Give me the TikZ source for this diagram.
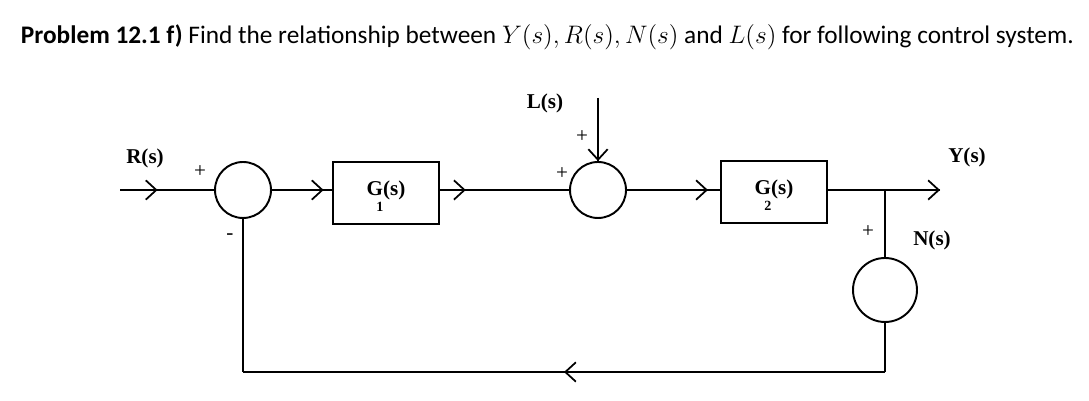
\documentclass[tikz,border=0pt]{standalone}
\usepackage{fontspec}
\setmainfont{Liberation Serif}
\newfontfamily\carlitofont{Carlito}
\usetikzlibrary{arrows.meta,decorations.markings}
\begin{document}
\begin{tikzpicture}[x=0.02cm,y=-0.02cm,line width=1.1pt,
  chev/.style={postaction={decorate,decoration={markings,mark=at position #1 with {\arrow{Straight Barb[length=6pt,width=11pt,line width=1pt]}}}}},
  sum/.style={draw,circle,minimum size=1.12cm,inner sep=0pt},
  blk/.style={draw,minimum width=2.12cm,minimum height=1.24cm},
  lab/.style={font=\bfseries\fontsize{12}{14}\selectfont,inner sep=0pt},
  pm/.style={font=\fontsize{12}{14}\selectfont,inner sep=0pt}]
\useasboundingbox (0,0) rectangle (1089,401);
\node[anchor=west,inner sep=0pt,font=\carlitofont\fontsize{14.4}{16}\selectfont] at (20,37)
 {\textbf{Problem 12.1 f)} Find the relationship between $Y(s),R(s),N(s)$ and $L(s)$ for following control system.};
\node[sum] (s1) at (243,190) {};
\node[sum] (s2) at (598,190) {};
\node[blk] (g1) at (386,193) {};
\node[blk] (g2) at (774,192) {};
\node[draw,circle,minimum size=1.28cm,inner sep=0pt] (sn) at (885,290) {};
\node[lab] (gt1) at (386,190) {G(s)};
\node[lab,font=\bfseries\fontsize{8}{9}\selectfont] (gs1) at (380,207) {1};
\node[lab] (gt2) at (774,189) {G(s)};
\node[lab,font=\bfseries\fontsize{8}{9}\selectfont] (gs2) at (768,206) {2};
\coordinate (rin) at (120,190);
\coordinate (lin) at (598,98);
\coordinate (yout) at (940,190);
\coordinate (br) at (885,190);
\coordinate (c1) at (885,372);
\coordinate (c2) at (243,372);
\draw[chev=0.4] (rin) -- (s1.west);
\draw[chev=0.86] (s1.east) -- (g1.west |- s1.east);
\draw[chev=0.2] (g1.east |- s2.west) -- (s2.west);
\draw[chev=0.87] (s2.east) -- (g2.west |- s2.east);
\draw[chev=1] (g2.east |- br) -- (yout);
\draw (br) -- (sn.north);
\draw[chev=1] (lin) -- (s2.north);
\draw (sn.south) -- (c1);
\draw[chev=0.5] (c1) -- (c2);
\draw (c2) -- (s1.south);
\node[lab] (lr) at (145,158) {R(s)};
\node[lab] (ll) at (545,103) {L(s)};
\node[lab] (ly) at (967,157) {Y(s)};
\node[lab] (ln) at (932,240) {N(s)};
\node[pm] (p1) at (200,172) {+};
\node[pm] (m1) at (230,237) {-};
\node[pm] (p2) at (562,174) {+};
\node[pm] (p3) at (582,137) {+};
\node[pm] (p4) at (868,232) {+};
\end{tikzpicture}
\end{document}
